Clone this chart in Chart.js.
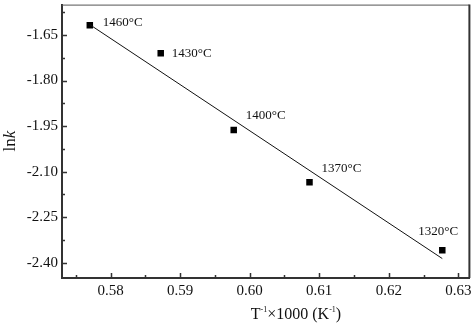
<!DOCTYPE html>
<html>
<head>
<meta charset="utf-8">
<script src="https://cdn.jsdelivr.net/npm/chart.js@4.4.1/dist/chart.umd.min.js"></script>
<style>
  html, body { margin: 0; padding: 0; background: #fff; }
  #wrap { width: 474px; height: 327px; }
</style>
</head>
<body>
<div id="wrap"><canvas id="lineChart" width="474" height="327"></canvas></div>
<script>
// measured points: 1/T x 1000 and ln k
var invTemp = [0.5770, 0.5872, 0.5977, 0.6086, 0.6277];
var lnK = [-1.618, -1.710, -1.963, -2.135, -2.359];
var tempLabels = ["1460°C", "1430°C", "1400°C", "1370°C", "1320°C"];

// linear fit line end points
var fitX = [0.5770, 0.6277];
var fitY = [-1.616, -2.386];

var xTicks = [0.58, 0.59, 0.60, 0.61, 0.62, 0.63];
var xMinorTicks = [0.575, 0.585, 0.595, 0.605, 0.615, 0.625];
var yTicks = [-1.65, -1.80, -1.95, -2.10, -2.25, -2.40];
var yMinorTicks = [-1.575, -1.725, -1.875, -2.025, -2.175, -2.325];

var serif = "'Liberation Serif', 'Times New Roman', serif";

// offsets of the temperature labels from their points (px)
var labelOffsets = [[13, -3], [11, 0], [12, -14], [12, -14], [-24, -19]];

// draw a row of text runs, some raised (superscript) or italic
function drawRuns(ctx, runs, x, y) {
  var total = 0;
  runs.forEach(function (r) {
    ctx.font = r.font;
    total += ctx.measureText(r.text).width;
  });
  var cx = x - total / 2;
  runs.forEach(function (r) {
    ctx.font = r.font;
    ctx.fillText(r.text, cx, y - (r.rise || 0));
    cx += ctx.measureText(r.text).width;
  });
}

var decorations = {
  id: "decorations",
  afterDraw: function (chart) {
    var ctx = chart.ctx;
    var area = chart.chartArea;
    var xs = chart.scales.x;
    var ys = chart.scales.y;

    ctx.save();
    // top and right frame
    ctx.strokeStyle = "#555";
    ctx.lineWidth = 1;
    ctx.beginPath();
    ctx.moveTo(area.left, area.top + 0.5);
    ctx.lineTo(area.right, area.top + 0.5);
    ctx.stroke();
    ctx.strokeStyle = "#333";
    ctx.lineWidth = 2;
    ctx.beginPath();
    ctx.moveTo(area.right, area.top);
    ctx.lineTo(area.right, area.bottom);
    ctx.stroke();

    // inward ticks
    ctx.strokeStyle = "#333";
    ctx.lineWidth = 1.5;
    ctx.beginPath();
    xTicks.forEach(function (v) {
      var px = Math.round(xs.getPixelForValue(v)) + 0.5;
      ctx.moveTo(px, area.bottom);
      ctx.lineTo(px, area.bottom - 5);
    });
    xMinorTicks.forEach(function (v) {
      var px = Math.round(xs.getPixelForValue(v)) + 0.5;
      ctx.moveTo(px, area.bottom);
      ctx.lineTo(px, area.bottom - 3);
    });
    yTicks.forEach(function (v) {
      var py = Math.round(ys.getPixelForValue(v)) + 0.5;
      ctx.moveTo(area.left, py);
      ctx.lineTo(area.left + 5, py);
    });
    yMinorTicks.forEach(function (v) {
      var py = Math.round(ys.getPixelForValue(v)) + 0.5;
      ctx.moveTo(area.left, py);
      ctx.lineTo(area.left + 3, py);
    });
    ctx.stroke();

    // temperature labels next to the points
    ctx.fillStyle = "#111";
    ctx.font = "13px " + serif;
    ctx.textBaseline = "middle";
    ctx.textAlign = "left";
    var meta = chart.getDatasetMeta(1);
    meta.data.forEach(function (pt, i) {
      var off = labelOffsets[i];
      ctx.fillText(tempLabels[i], pt.x + off[0], pt.y + off[1]);
    });

    // axis titles
    ctx.textAlign = "left";
    ctx.textBaseline = "middle";
    drawRuns(ctx, [
      { text: "T", font: "16px " + serif },
      { text: "-1", font: "8px " + serif, rise: 5 },
      { text: "×1000 (K", font: "16px " + serif },
      { text: "-1", font: "8px " + serif, rise: 5 },
      { text: ")", font: "16px " + serif }
    ], 296, 315);

    ctx.translate(11, 141);
    ctx.rotate(-Math.PI / 2);
    drawRuns(ctx, [
      { text: "ln", font: "17px " + serif },
      { text: "k", font: "italic 17px " + serif }
    ], 0, 0);
    ctx.restore();
  }
};

var ctx = document.getElementById("lineChart").getContext("2d");

var fitData = fitX.map(function (x, i) { return { x: x, y: fitY[i] }; });
var pointData = invTemp.map(function (x, i) { return { x: x, y: lnK[i] }; });

var myChart = new Chart(ctx, {
  type: "scatter",
  data: {
    datasets: [
      {
        label: "fit",
        data: fitData,
        showLine: true,
        borderColor: "#111",
        borderWidth: 1,
        pointRadius: 0,
      },
      {
        label: "ln k",
        data: pointData,
        pointStyle: "rect",
        pointRadius: 4.6,
        backgroundColor: "#000",
        borderColor: "#000",
        borderWidth: 0,
      },
    ],
  },
  options: {
    responsive: false,
    animation: false,
    layout: { padding: { top: 2, right: 3, left: 0, bottom: 0 } },
    plugins: {
      legend: { display: false },
      tooltip: { enabled: false },
    },
    scales: {
      x: {
        type: "linear",
        min: 0.573,
        max: 0.6316,
        afterBuildTicks: function (scale) {
          scale.ticks = xTicks.map(function (v) { return { value: v }; });
        },
        afterFit: function (scale) {
          scale.height = 49;
          scale.paddingLeft = 0;
          scale.paddingRight = 0;
        },
        grid: { display: false, drawTicks: false },
        border: { display: true, color: "#333", width: 2 },
        ticks: {
          padding: 4,
          color: "#111",
          font: { family: serif, size: 15 },
          callback: function (v) { return v.toFixed(2); },
        },
      },
      y: {
        type: "linear",
        min: -2.45,
        max: -1.55,
        afterBuildTicks: function (scale) {
          scale.ticks = yTicks.map(function (v) { return { value: v }; });
        },
        afterFit: function (scale) {
          scale.width = 62;
          scale.paddingTop = 0;
          scale.paddingBottom = 0;
        },
        grid: { display: false, drawTicks: false },
        border: { display: true, color: "#333", width: 2 },
        ticks: {
          padding: 4,
          color: "#111",
          font: { family: serif, size: 15 },
          callback: function (v) { return v.toFixed(2); },
        },
      },
    },
  },
  plugins: [decorations],
});
</script>
</body>
</html>
